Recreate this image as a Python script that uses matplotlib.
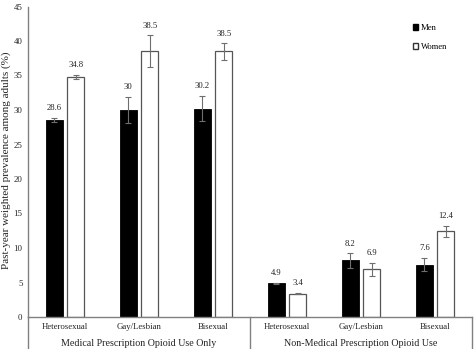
import matplotlib
matplotlib.use("Agg")
import matplotlib.pyplot as plt
from matplotlib.patches import Patch
import numpy as np

plt.rcParams['font.family'] = ['Liberation Serif', 'DejaVu Serif']

categories = ["Heterosexual", "Gay/Lesbian", "Bisexual",
              "Heterosexual", "Gay/Lesbian", "Bisexual"]
groups = ["Medical Prescription Opioid Use Only", "Non-Medical Prescription Opioid Use"]
men = [28.6, 30.0, 30.2, 4.9, 8.2, 7.6]
women = [34.8, 38.5, 38.5, 3.4, 6.9, 12.4]
men_err = [0.3, 1.9, 1.85, 0.1, 1.05, 0.95]
women_err = [0.3, 2.3, 1.2, 0.1, 0.95, 0.8]
men_text = ["28.6", "30", "30.2", "4.9", "8.2", "7.6"]
women_text = ["34.8", "38.5", "38.5", "3.4", "6.9", "12.4"]
yticks = [0, 5, 10, 15, 20, 25, 30, 35, 40, 45]

W, H = 474, 349
fig = plt.figure(figsize=(W / 100, H / 100), dpi=100)
ax = fig.add_axes([28 / W, 1 - 317 / H, 444 / W, (317 - 6.5) / H])

x = np.arange(len(categories))
bw = 0.225
off = 0.145
grey = "#6e6e6e"

ax.bar(x - off, men, bw, color="black", edgecolor="black", linewidth=0.6,
       yerr=men_err, error_kw=dict(ecolor=grey, elinewidth=0.8, capsize=2, capthick=0.8),
       label="Men", zorder=2)
ax.bar(x + off, women, bw, color="white", edgecolor="#555555", linewidth=0.9,
       yerr=women_err, error_kw=dict(ecolor=grey, elinewidth=0.8, capsize=2, capthick=0.8),
       label="Women", zorder=2)

for xi, v, e, t in zip(x, men, men_err, men_text):
    ax.annotate(t, (xi - off, v + e), xytext=(0, 4), textcoords="offset points",
                ha="center", va="bottom", fontsize=6.2, color="#222222")
for xi, v, e, t in zip(x, women, women_err, women_text):
    ax.annotate(t, (xi + off, v + e), xytext=(0, 4), textcoords="offset points",
                ha="center", va="bottom", fontsize=6.2, color="#222222")

ax.set_xlim(-0.5, 5.5)
ax.set_ylim(0, 45)
ax.set_yticks(yticks)
ax.tick_params(axis="y", length=0, pad=4, labelsize=6.3, labelcolor="#222222")
ax.set_xticks(x)
ax.set_xticklabels(categories)
ax.tick_params(axis="x", length=0, pad=4.5, labelsize=6.3, labelcolor="#222222")

for s in ["top", "right"]:
    ax.spines[s].set_visible(False)
for s in ["left", "bottom"]:
    ax.spines[s].set_color("#808080")
    ax.spines[s].set_linewidth(1.0)

# vertical axis title
fig.text(6.5 / W, 1 - 160 / H, "Past-year weighted prevalence among adults (%)",
         rotation=90, ha="center", va="center", fontsize=8.0, color="#222222")

# group captions under the category labels
trans = ax.get_xaxis_transform()
ax.text(1, -0.085, groups[0], transform=trans, ha="center", va="center",
        fontsize=7.2, color="#222222")
ax.text(4, -0.085, groups[1], transform=trans, ha="center", va="center",
        fontsize=7.2, color="#222222")

# separators between the category groups below the axis
for xs in [-0.5, 2.5, 5.5]:
    ax.plot([xs, xs], [0, -0.11], transform=trans, color="#808080",
            linewidth=1.0, clip_on=False)

handles = [Patch(facecolor="black", edgecolor="black", label="Men"),
           Patch(facecolor="white", edgecolor="#333333", label="Women")]
ax.legend(handles=handles, loc="upper left", bbox_to_anchor=(0.86, 0.955),
          frameon=False, fontsize=6.2, handlelength=0.6, handleheight=0.6,
          handletextpad=0.3, labelspacing=1.3, borderaxespad=0)

fig.savefig("out.png", dpi=100)
